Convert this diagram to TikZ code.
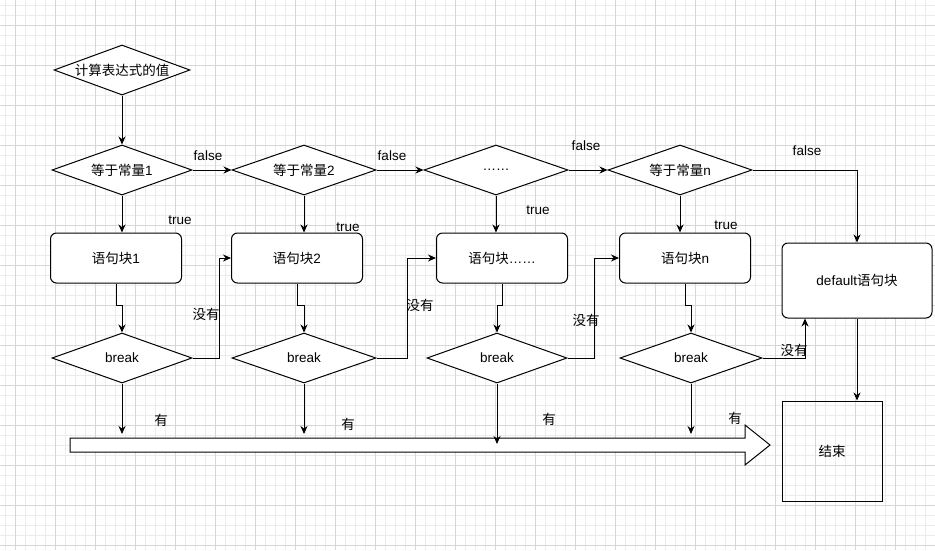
\documentclass[tikz,border=0pt]{standalone}
\usepackage{fontspec}
\setmainfont{Liberation Sans}
\newfontfamily\cjk{Noto Sans CJK SC}
\usetikzlibrary{shapes.geometric,arrows.meta}
\newcommand{\zb}[1]{\makebox[0pt]{#1}}
\begin{document}
\begin{tikzpicture}[x=1pt,y=-1pt,
  every node/.style={font=\fontsize{13.5}{15}\selectfont, inner sep=0pt},
  dia/.style={draw, line width=1pt, diamond, minimum width=140pt, minimum height=50pt, fill=white},
  blk/.style={draw, line width=1pt, rounded corners=6pt, minimum width=131pt, minimum height=50pt, fill=white},
  ar/.style={line width=1pt, -{Stealth[length=8pt,width=7pt]}},
  lab/.style={font=\fontsize{13.5}{15}\selectfont}]
\useasboundingbox (0,0) rectangle (935,550);
\fill[white] (0,0) rectangle (935,550);
\foreach \i in {0,10,...,930} \draw[black!8, line width=0.5pt] (\i+5,0) -- (\i+5,550);
\foreach \i in {0,10,...,550} \draw[black!8, line width=0.5pt] (0,\i+5) -- (935,\i+5);
\foreach \i in {0,40,...,930} \draw[black!16, line width=0.6pt] (\i+15,0) -- (\i+15,550);
\foreach \i in {0,40,...,550} \draw[black!16, line width=0.6pt] (0,\i+25) -- (935,\i+25);

\node[dia, minimum width=136pt] (s) at (122,70) {\zb{\cjk 计算表达式的值}};
\node[dia] (d1) at (122,170) {\zb{{\cjk 等于常量}1}};
\node[dia, minimum width=144pt] (d2) at (304,170) {\zb{{\cjk 等于常量}2}};
\node[dia, minimum width=144pt] (d3) at (496,170) {\zb{……}};
\node[dia, minimum width=144pt] (dn) at (680,170) {\zb{{\cjk 等于常量}n}};

\node[blk] (b1) at (116,258) {{\cjk 语句块}1};
\node[blk] (b2) at (297,258) {{\cjk 语句块}2};
\node[blk] (b3) at (502,258) {{\cjk 语句块}……};
\node[blk] (bn) at (685,258) {{\cjk 语句块}n};
\node[blk, minimum width=150pt, minimum height=75pt] (df) at (857,280.5) {default{\cjk 语句块}};

\node[dia] (k1) at (122,358) {\zb{break}};
\node[dia, minimum width=144pt] (k2) at (304,358) {\zb{break}};
\node[dia] (k3) at (497,358) {\zb{break}};
\node[dia, minimum width=142pt] (k4) at (691,358) {\zb{break}};

\node[draw, line width=1pt, minimum width=100pt, minimum height=100pt] (end) at (832,451) {\cjk 结束};

% big arrow
\draw[line width=1pt, fill=white] (70,438) -- (745,438) -- (745,425) -- (770,445) -- (745,465) -- (745,452) -- (70,452) -- cycle;

\draw[ar] (s.south) -- (d1.north);
\draw[ar] (d1.east) -- (d2.west);
\draw[ar] (d2.east) -- (d3.west);
\draw[ar] (d3.east) -- (dn.west);
\draw[ar] (dn.east) -| (df.north);

\draw[ar] (d1.south) -- (d1.south |- b1.north);
\draw[ar] (d2.south) -- (d2.south |- b2.north);
\draw[ar] (d3.south) -- (d3.south |- b3.north);
\draw[ar] (dn.south) -- (dn.south |- bn.north);

\draw[ar] (b1.south) -- ++(0,22) -| (k1.north);
\draw[ar] (b2.south) -- ++(0,22) -| (k2.north);
\draw[ar] (b3.south) -- ++(0,22) -| (k3.north);
\draw[ar] (bn.south) -- ++(0,22) -| (k4.north);

\coordinate (c1) at (219,358);
\coordinate (c2) at (407,358);
\coordinate (c3) at (594,358);
\coordinate (c4) at (805,358);
\draw[ar] (k1.east) -- (c1) |- (b2.west);
\draw[ar] (k2.east) -- (c2) |- (b3.west);
\draw[ar] (k3.east) -- (c3) |- (bn.west);
\draw[ar] (k4.east) -- (c4) -- (c4 |- df.south);

\coordinate (e1) at (122,434);
\coordinate (e2) at (304,434);
\coordinate (e3) at (497,444);
\coordinate (e4) at (691,434);
\draw[ar] (k1.south) -- (e1);
\draw[ar] (k2.south) -- (e2);
\draw[ar] (k3.south) -- (e3);
\draw[ar] (k4.south) -- (e4);
\draw[ar] (df.south) -- (df.south |- end.north);

\node[lab] (f1) at (208,156) {false};
\node[lab] (f2) at (392,156) {false};
\node[lab] (f3) at (586,146) {false};
\node[lab] (f4) at (807,151) {false};
\node[lab] (t1) at (180,220) {true};
\node[lab] (t2) at (348,227) {true};
\node[lab] (t3) at (538,210) {true};
\node[lab] (t4) at (726,225) {true};
\node[lab] (m1) at (206,314) {\cjk 没有};
\node[lab] (m2) at (420,305) {\cjk 没有};
\node[lab] (m3) at (586,320) {\cjk 没有};
\node[lab] (m4) at (794,350) {\cjk 没有};
\node[lab] (y1) at (161,420) {\cjk 有};
\node[lab] (y2) at (348,424) {\cjk 有};
\node[lab] (y3) at (549,419) {\cjk 有};
\node[lab] (y4) at (735,418) {\cjk 有};
\end{tikzpicture}
\end{document}
